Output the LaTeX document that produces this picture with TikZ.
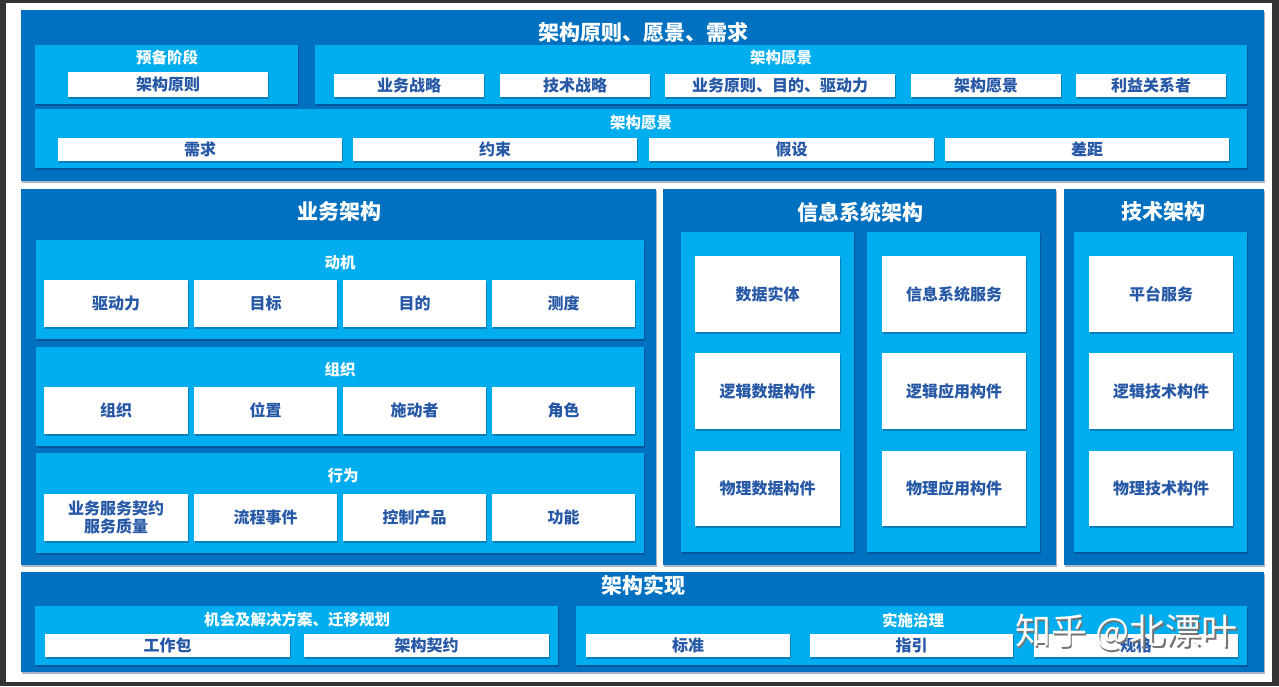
\documentclass[tikz,border=0pt]{standalone}
\usepackage{fontspec}
\setmainfont{Noto Sans CJK SC}
\usetikzlibrary{shadows}
\definecolor{bg}{RGB}{52,52,52}
\definecolor{oblue}{RGB}{0,112,192}
\definecolor{lblue}{RGB}{0,174,239}
\definecolor{tblue}{RGB}{38,88,165}
\definecolor{shcol}{RGB}{10,40,90}
\newcommand\bx[7]{\node[#6,minimum width={(#4-#2)*1pt},minimum height={(#5-#3)*1pt}] (#1) at ({(#2+#4)/2},{(#3+#5)/2}) {#7};}
\begin{document}
\begin{tikzpicture}[x=1pt,y=-1pt,
 sh/.style={drop shadow={shadow xshift=1pt,shadow yshift=-2pt,opacity=0.35,fill=shcol}},
 obox/.style={fill=oblue,inner sep=0pt,draw=none,sh},
 pbox/.style={fill=lblue,inner sep=0pt,draw=none,sh},
 wbox/.style={fill=white,inner sep=0pt,draw=none,text=tblue,align=center,font=\bfseries\fontsize{16}{17.5}\selectfont,sh},
 ttl/.style={text=white,font=\bfseries\fontsize{21}{24}\selectfont,inner sep=0pt},
 lbl/.style={text=white,font=\bfseries\fontsize{15.5}{17}\selectfont,inner sep=0pt}]
\useasboundingbox (0,0) rectangle (1279,686);
\fill[bg] (0,0) rectangle (1279,686);
\fill[white] (6,3) rectangle (1272,682);
% top section
\bx{top}{21}{10}{1264}{181}{obox}{}
\node[ttl] (toptitle) at (643,33) {架构原则、愿景、需求};
\bx{prep}{35}{45}{298}{104}{pbox}{}
\node[lbl] (prepl) at (167,58) {预备阶段};
\bx{prin}{68}{72}{268}{97}{wbox}{架构原则}
\bx{vis}{315}{45}{1247}{104}{pbox}{}
\node[lbl] (visl) at (781,58) {架构愿景};
\bx{v1}{334}{74}{484}{97}{wbox}{业务战略}
\bx{v2}{500}{74}{650}{97}{wbox}{技术战略}
\bx{v3}{665}{74}{895}{97}{wbox}{业务原则、目的、驱动力}
\bx{v4}{911}{74}{1061}{97}{wbox}{架构愿景}
\bx{v5}{1076}{74}{1226}{97}{wbox}{利益关系者}
\bx{req}{35}{109}{1247}{168}{pbox}{}
\node[lbl] (reql) at (641,123) {架构愿景};
\bx{r1}{58}{138}{342}{161}{wbox}{需求}
\bx{r2}{353}{138}{637}{161}{wbox}{约束}
\bx{r3}{649}{138}{934}{161}{wbox}{假设}
\bx{r4}{945}{138}{1229}{161}{wbox}{差距}
% business architecture
\bx{ba}{21}{189}{656}{565}{obox}{}
\node[ttl] (bat) at (339,212) {业务架构};
\bx{mot}{36}{240}{644}{339}{pbox}{}
\node[lbl] (motl) at (340,263) {动机};
\bx{m1}{44}{280}{188}{327}{wbox}{驱动力}
\bx{m2}{194}{280}{337}{327}{wbox}{目标}
\bx{m3}{343}{280}{486}{327}{wbox}{目的}
\bx{m4}{492}{280}{635}{327}{wbox}{测度}
\bx{org}{36}{347}{644}{446}{pbox}{}
\node[lbl] (orgl) at (340,370) {组织};
\bx{o1}{44}{387}{188}{434}{wbox}{组织}
\bx{o2}{194}{387}{337}{434}{wbox}{位置}
\bx{o3}{343}{387}{486}{434}{wbox}{施动者}
\bx{o4}{492}{387}{635}{434}{wbox}{角色}
\bx{beh}{36}{453}{644}{553}{pbox}{}
\node[lbl] (behl) at (343,476) {行为};
\bx{b1}{44}{494}{188}{541}{wbox}{业务服务契约\\服务质量}
\bx{b2}{194}{494}{337}{541}{wbox}{流程事件}
\bx{b3}{343}{494}{486}{541}{wbox}{控制产品}
\bx{b4}{492}{494}{635}{541}{wbox}{功能}
% information systems architecture
\bx{is}{663}{189}{1056}{565}{obox}{}
\node[ttl] (ist) at (860,212) {信息系统架构};
\bx{isp1}{681}{232}{854}{552}{pbox}{}
\bx{isp2}{867}{232}{1040}{552}{pbox}{}
\bx{d1}{695}{256}{840}{332}{wbox}{数据实体}
\bx{d2}{695}{353}{840}{429}{wbox}{逻辑数据构件}
\bx{d3}{695}{451}{840}{526}{wbox}{物理数据构件}
\bx{a1}{882}{256}{1026}{332}{wbox}{信息系统服务}
\bx{a2}{882}{353}{1026}{429}{wbox}{逻辑应用构件}
\bx{a3}{882}{451}{1026}{526}{wbox}{物理应用构件}
% technology architecture
\bx{ta}{1064}{189}{1264}{565}{obox}{}
\node[ttl] (tat) at (1163,212) {技术架构};
\bx{tap}{1074}{232}{1247}{552}{pbox}{}
\bx{t1}{1089}{256}{1233}{332}{wbox}{平台服务}
\bx{t2}{1089}{353}{1233}{429}{wbox}{逻辑技术构件}
\bx{t3}{1089}{451}{1233}{526}{wbox}{物理技术构件}
% implementation
\bx{impl}{21}{572}{1264}{672}{obox}{}
\node[ttl] (implt) at (643,585) {架构实现};
\bx{opp}{35}{606}{558}{665}{pbox}{}
\node[lbl] (oppl) at (297,620) {机会及解决方案、迁移规划};
\bx{w1}{45}{634}{290}{657}{wbox}{工作包}
\bx{w2}{304}{634}{549}{657}{wbox}{架构契约}
\bx{gov}{576}{606}{1247}{665}{pbox}{}
\node[lbl] (govl) at (913,620) {实施治理};
\bx{g1}{586}{634}{790}{657}{wbox}{标准}
\bx{g2}{810}{634}{1013}{657}{wbox}{指引}
\bx{g3}{1034}{634}{1238}{657}{wbox}{规格}
% watermark
\node[text=black!55,font=\fontsize{36}{38}\selectfont,inner sep=0pt] (wmsh) at (1128,634) {知乎 @北漂叶};
\node[text=white,font=\fontsize{36}{38}\selectfont,inner sep=0pt] (wm) at (1126.5,632.5) {知乎 @北漂叶};
\end{tikzpicture}
\end{document}
